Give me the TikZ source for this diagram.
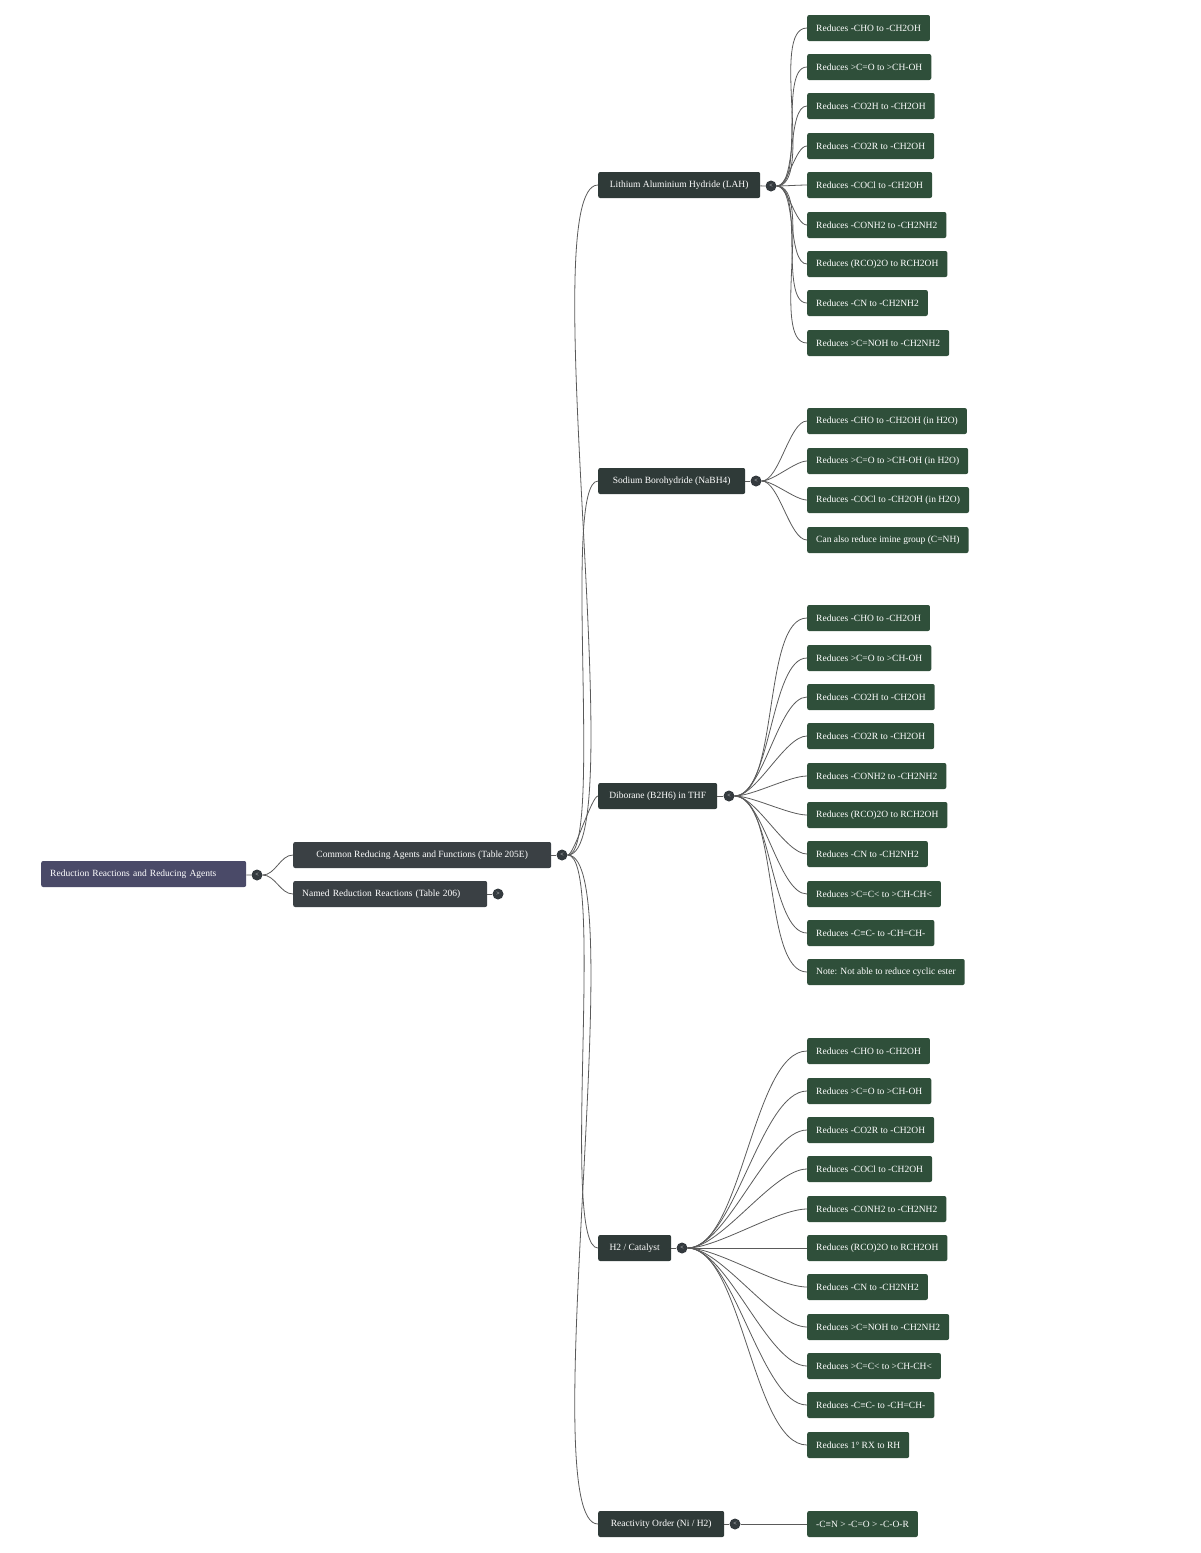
\documentclass[tikz,border=0pt]{standalone}
\usepackage{fontspec}
\setmainfont{Liberation Serif}
\begin{document}
\begin{tikzpicture}[x=1pt,y=-1pt,
  base/.style={rounded corners=2pt,text=white,font=\fontsize{9.5}{11}\selectfont,minimum height=26pt,inner xsep=9pt,anchor=west},
  rootbox/.style={base,fill={rgb,255:red,74;green,74;blue,104},minimum width=205pt,align=left,text width=187pt},
  midbox/.style={base,fill={rgb,255:red,58;green,64;blue,68}},
  agentbox/.style={base,fill={rgb,255:red,47;green,58;blue,56}},
  leafbox/.style={base,fill={rgb,255:red,47;green,79;blue,58}},
  tog/.style={circle,fill={rgb,255:red,52;green,58;blue,62},inner sep=0pt,minimum size=11pt,text=white,font=\fontsize{6}{6}\selectfont},
  link/.style={draw={rgb,255:red,90;green,90;blue,90},line width=0.8pt},
  curv/.style={link,out=0,in=180,looseness=0.9}]
\useasboundingbox (0,0) rectangle (1200,1553);
\node[rootbox] (root) at (41,874) {Reduction Reactions and Reducing Agents};
\node[tog] (troot) at (257,875) {<};
\node[midbox,minimum width=258pt] (common) at (293,855) {Common Reducing Agents and Functions (Table 205E)};
\node[tog] (tcommon) at (562,855) {<};
\node[midbox,minimum width=194pt,text width=176pt] (named) at (293,894) {Named Reduction Reactions (Table 206)};
\node[tog] (tnamed) at (498,894) {>};
\draw[link] (root) -- (troot);
\draw[curv] (troot) to (common.west);
\draw[curv] (troot) to (named.west);
\draw[link] (common) -- (tcommon);
\draw[link] (named) -- (tnamed);

\node[agentbox,minimum width=162pt] (lah) at (598,185) {Lithium Aluminium Hydride (LAH)};
\node[tog] (tlah) at (771,186) {<};
\node[agentbox,minimum width=147pt] (nabh) at (598,481) {Sodium Borohydride (NaBH4)};
\node[tog] (tnabh) at (756,481) {<};
\node[agentbox,minimum width=119pt] (dib) at (598,796) {Diborane (B2H6) in THF};
\node[tog] (tdib) at (729,796) {<};
\node[agentbox,minimum width=73pt] (htwo) at (598,1248) {H2 / Catalyst};
\node[tog] (thtwo) at (682,1248) {<};
\node[agentbox,minimum width=126pt] (react) at (598,1524) {Reactivity Order (Ni / H2)};
\node[tog] (treact) at (735,1524) {<};
\foreach \a in {lah,nabh,dib,htwo,react}{
  \draw[curv,looseness=0.25] (tcommon) to (\a.west);
  \draw[link] (\a) -- (t\a);
}

% LAH leaves
\node[leafbox] (l1) at (807,28) {Reduces -CHO to -CH2OH};
\node[leafbox] (l2) at (807,67) {Reduces >C=O to >CH-OH};
\node[leafbox] (l3) at (807,106) {Reduces -CO2H to -CH2OH};
\node[leafbox] (l4) at (807,146) {Reduces -CO2R to -CH2OH};
\node[leafbox] (l5) at (807,185) {Reduces -COCl to -CH2OH};
\node[leafbox] (l6) at (807,225) {Reduces -CONH2 to -CH2NH2};
\node[leafbox] (l7) at (807,264) {Reduces (RCO)2O to RCH2OH};
\node[leafbox] (l8) at (807,303) {Reduces -CN to -CH2NH2};
\node[leafbox] (l9) at (807,343) {Reduces >C=NOH to -CH2NH2};
\foreach \i in {1,...,9} \draw[curv,looseness=0.6] (tlah) to (l\i.west);

% NaBH4 leaves
\node[leafbox] (n1) at (807,421) {Reduces -CHO to -CH2OH (in H2O)};
\node[leafbox] (n2) at (807,461) {Reduces >C=O to >CH-OH (in H2O)};
\node[leafbox] (n3) at (807,500) {Reduces -COCl to -CH2OH (in H2O)};
\node[leafbox] (n4) at (807,540) {Can also reduce imine group (C=NH)};
\foreach \i in {1,...,4} \draw[curv,looseness=0.6] (tnabh) to (n\i.west);

% Diborane leaves
\node[leafbox] (d1) at (807,618) {Reduces -CHO to -CH2OH};
\node[leafbox] (d2) at (807,658) {Reduces >C=O to >CH-OH};
\node[leafbox] (d3) at (807,697) {Reduces -CO2H to -CH2OH};
\node[leafbox] (d4) at (807,736) {Reduces -CO2R to -CH2OH};
\node[leafbox] (d5) at (807,776) {Reduces -CONH2 to -CH2NH2};
\node[leafbox] (d6) at (807,815) {Reduces (RCO)2O to RCH2OH};
\node[leafbox] (d7) at (807,854) {Reduces -CN to -CH2NH2};
\node[leafbox] (d8) at (807,894) {Reduces >C=C< to >CH-CH<};
\node[leafbox] (d9) at (807,933) {Reduces -C≡C- to -CH=CH-};
\node[leafbox] (d10) at (807,972) {Note: Not able to reduce cyclic ester};
\foreach \i in {1,...,10} \draw[curv,looseness=0.6] (tdib) to (d\i.west);

% H2 leaves
\node[leafbox] (h1) at (807,1051) {Reduces -CHO to -CH2OH};
\node[leafbox] (h2) at (807,1091) {Reduces >C=O to >CH-OH};
\node[leafbox] (h3) at (807,1130) {Reduces -CO2R to -CH2OH};
\node[leafbox] (h4) at (807,1169) {Reduces -COCl to -CH2OH};
\node[leafbox] (h5) at (807,1209) {Reduces -CONH2 to -CH2NH2};
\node[leafbox] (h6) at (807,1248) {Reduces (RCO)2O to RCH2OH};
\node[leafbox] (h7) at (807,1287) {Reduces -CN to -CH2NH2};
\node[leafbox] (h8) at (807,1327) {Reduces >C=NOH to -CH2NH2};
\node[leafbox] (h9) at (807,1366) {Reduces >C=C< to >CH-CH<};
\node[leafbox] (h10) at (807,1405) {Reduces -C≡C- to -CH=CH-};
\node[leafbox] (h11) at (807,1445) {Reduces 1° RX to RH};
\foreach \i in {1,...,11} \draw[curv,looseness=0.6] (thtwo) to (h\i.west);

\node[leafbox] (r1) at (807,1524) {-C≡N > -C=O > -C-O-R};
\draw[link] (treact) -- (r1.west);
\end{tikzpicture}
\end{document}
